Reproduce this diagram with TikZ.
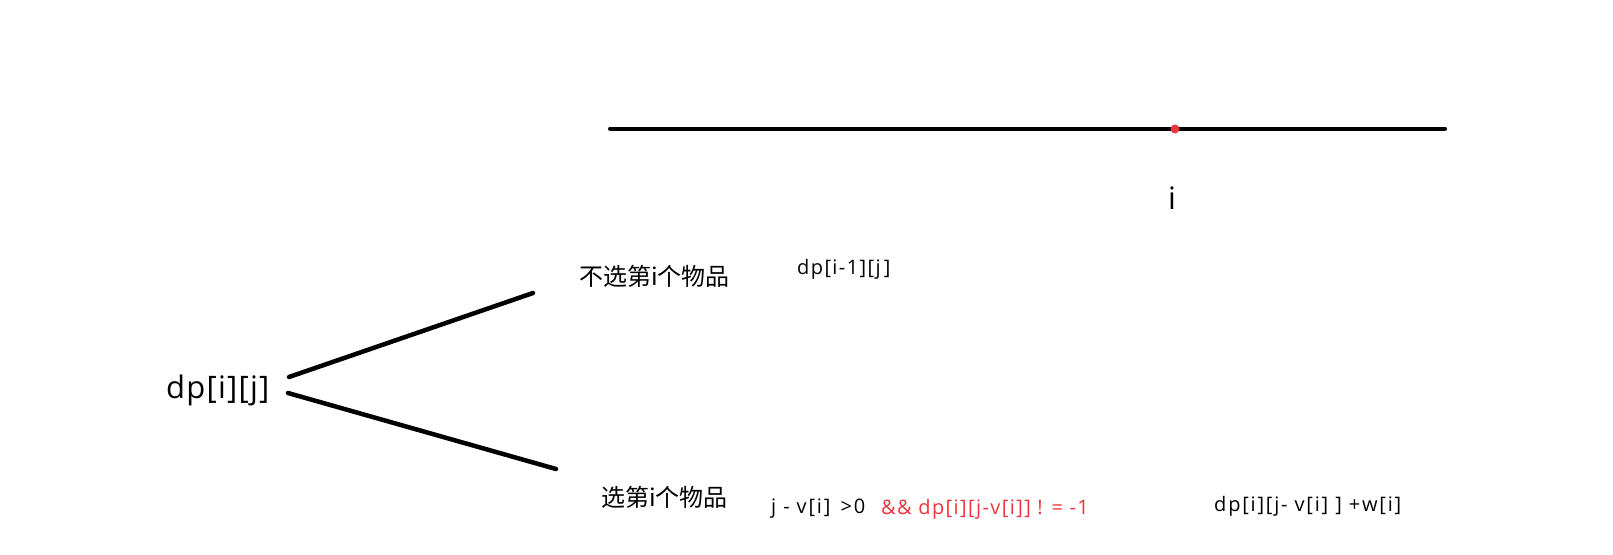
\documentclass[tikz,border=0pt]{standalone}
\usepackage{fontspec}
\setmainfont{Open Sans}
\newfontfamily\latin[LetterSpace=7]{Open Sans}
\newfontfamily\latinwide[LetterSpace=9]{Open Sans}
\newfontfamily\latinbig[LetterSpace=4]{Open Sans}
\newfontfamily\cjk{Noto Sans CJK SC}
\definecolor{redtxt}{RGB}{238,52,60}
\begin{document}
\begin{tikzpicture}[x=1pt,y=-1pt,
  txt/.style={anchor=west,inner sep=0pt,font=\latin\fontsize{20}{24}\selectfont},
  widetxt/.style={anchor=west,inner sep=0pt,font=\latinwide\fontsize{20}{24}\selectfont},
  cjktxt/.style={anchor=west,inner sep=0pt,font=\cjk\fontsize{24}{28}\selectfont},
  bigtxt/.style={anchor=west,inner sep=0pt,font=\latinbig\fontsize{31}{36}\selectfont},
  stroke/.style={line width=4.5pt,line cap=round}]
\useasboundingbox (0,0) rectangle (1613,554);
% top line
\coordinate (L) at (610,128.5);
\coordinate (R) at (1445,128.5);
\draw[line width=4pt,line cap=round] (L) -- (R);
\node[fill=redtxt,circle,minimum size=9pt,inner sep=0pt] (dot) at (1175,129) {};
\node[bigtxt,anchor=center] (ilab) at (1172,198) {i};
% root
\node[bigtxt] (root) at (166,390) {dp[i][j]};
\coordinate (u0) at (289,377);
\coordinate (u1) at (533,293);
\coordinate (d0) at (288,393);
\coordinate (d1) at (556,469);
\draw[stroke] (u0) -- (u1);
\draw[stroke] (d0) -- (d1);
% labels
\node[cjktxt] (notsel) at (579,276) {不选第i个物品};
\node[txt] (a1) at (797,269) {dp[i-1][j\,]};
\node[cjktxt] (sel) at (601,497) {选第i个物品};
\node[widetxt] (c1) at (771,509) {j - v[i] \,>0};
\node[txt,text=redtxt] (c2) at (881,509) {\&\& dp[i][j-v[i]] ! = -1};
\node[widetxt] (r1) at (1214,506) {dp[i][j- v[i] ] +w[i]};
\end{tikzpicture}
\end{document}
